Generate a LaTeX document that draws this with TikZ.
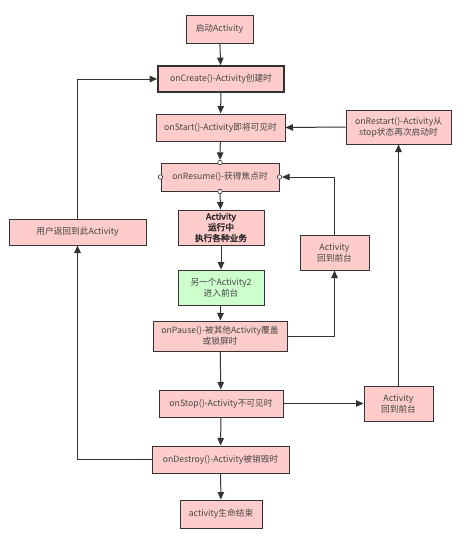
\documentclass[tikz,border=0pt]{standalone}
\usepackage{fontspec}
\setmainfont{Noto Sans CJK SC}[AutoFakeBold=2.5]
\usetikzlibrary{arrows.meta}
\definecolor{pinkfill}{HTML}{FFCCCC}
\definecolor{greenfill}{HTML}{CCFFCC}
\definecolor{edge}{HTML}{333333}
\definecolor{txt}{HTML}{444444}
\tikzset{
  box/.style={draw=edge, line width=1pt, fill=pinkfill, text=txt, align=center, inner sep=1pt,
    font=\fontsize{8.7}{11}\selectfont},
  gbox/.style={box, fill=greenfill},
  thickbox/.style={box, line width=1.8pt},
  conn/.style={draw=edge, line width=1pt, -{Triangle[length=7.5pt,width=6.5pt]}},
  port/.style={circle, draw=edge, line width=0.6pt, fill=white, inner sep=0pt, minimum size=4.5pt}
}
\begin{document}
\begin{tikzpicture}[x=1pt,y=-1pt]
\useasboundingbox (0,0) rectangle (474,552);
\fill[white] (0,0) rectangle (474,552);
\node[box, minimum width=67pt, minimum height=28pt] (launch) at (219.5,29) {启动Activity};
\node[thickbox, minimum width=126pt, minimum height=26pt] (create) at (221,79) {onCreate()-Activity创建时};
\node[box, minimum width=129pt, minimum height=27pt] (start) at (220.5,127.5) {onStart()-Activity即将可见时};
\node[box, minimum width=118pt, minimum height=28pt] (resume) at (220,177) {onResume()-获得焦点时};
\node[box, minimum width=86pt, minimum height=35pt, font=\fontsize{8.7}{10.8}\selectfont\bfseries, text=black!85] (running) at (221,227.5) {Activity\\运行中\\执行各种业务};
\node[gbox, minimum width=86pt, minimum height=35pt] (other) at (221,287.5) {另一个Activity2\\进入前台};
\node[box, minimum width=134pt, minimum height=30pt] (pause) at (220,336) {onPause()-被其他Activity覆盖\\或锁屏时};
\node[box, minimum width=124pt, minimum height=27pt] (stop) at (221,403.5) {onStop()-Activity不可见时};
\node[box, minimum width=137pt, minimum height=27pt] (destroy) at (220.5,459.5) {onDestroy()-Activity被销毁时};
\node[box, minimum width=82pt, minimum height=28pt] (finish) at (221,514) {activity生命结束};
\node[box, minimum width=105pt, minimum height=34pt] (restart) at (398.5,127) {onRestart()-Activity从\\stop状态再次启动时};
\node[box, minimum width=69pt, minimum height=35pt] (fgone) at (334.5,252.5) {Activity\\回到前台};
\node[box, minimum width=69pt, minimum height=35pt] (fgtwo) at (398.5,403.5) {Activity\\回到前台};
\node[box, minimum width=137pt, minimum height=26pt] (user) at (77.5,232) {用户返回到此Activity};

\node[port] (pn) at (resume.north) {};
\node[port] (ps) at (resume.south) {};
\node[port] (pw) at (resume.west) {};
\node[port] (pe) at (resume.east) {};

\draw[conn] (launch) -- (create);
\draw[conn] (create) -- (start);
\draw[conn] (start) -- (pn);
\draw[conn] (ps) -- (running);
\draw[conn] (running) -- (other);
\draw[conn] (other) -- (pause);
\draw[conn] (pause) -- (stop);
\draw[conn] (stop) -- (destroy);
\draw[conn] (destroy) -- (finish);
\draw[conn] (pause.east) -| (fgone.south);
\draw[conn] (fgone.north) |- (pe.east);
\draw[conn] (stop.east) -- (fgtwo.west);
\draw[conn] (fgtwo.north) -- (restart.south);
\draw[conn] (restart.west) -- (start.east);
\draw[conn] (destroy.west) -| (user.south);
\draw[conn] (user.north) |- (create.west);
\end{tikzpicture}
\end{document}
